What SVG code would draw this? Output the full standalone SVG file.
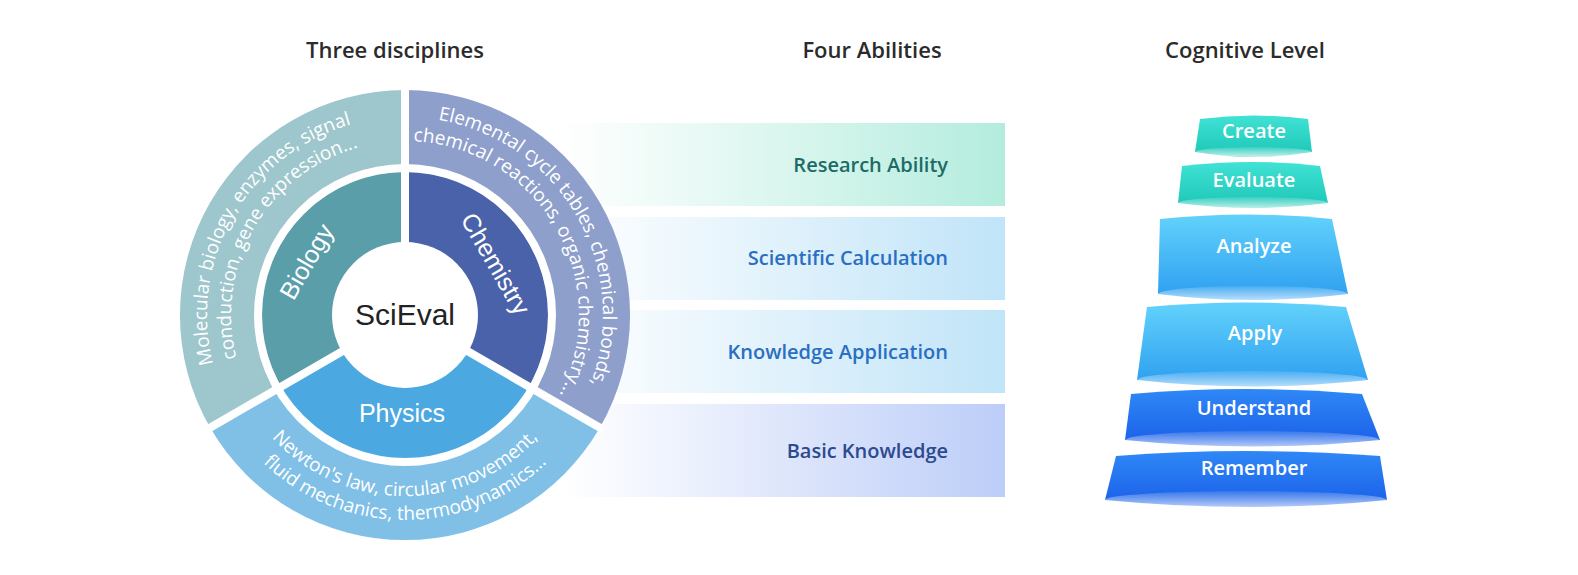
<svg xmlns="http://www.w3.org/2000/svg" width="1578" height="575" viewBox="0 0 1578 575">
<defs>
<style>
.hdr{font-family:"Open Sans","Noto Sans",sans-serif;font-weight:600;font-size:22px;fill:#2b2b2b;text-anchor:middle}
.ab{font-family:"Open Sans","Noto Sans",sans-serif;font-weight:600;font-size:20px;text-anchor:end}
.ot{font-family:"Open Sans","Noto Sans",sans-serif;font-size:19px;fill:#fff;text-anchor:middle}
.it{font-family:"Liberation Sans",Arial,sans-serif;font-size:25px;fill:#fff;text-anchor:middle}
.pt{font-family:"Open Sans","Noto Sans",sans-serif;font-weight:600;font-size:20px;fill:#fff;text-anchor:middle}
</style>
<linearGradient id="b1" x1="0" x2="1"><stop offset="0" stop-color="#b8eee0" stop-opacity="0"/><stop offset="1" stop-color="#b3ecdd"/></linearGradient>
<linearGradient id="b2" x1="0" x2="1"><stop offset="0" stop-color="#c2e4f8" stop-opacity="0"/><stop offset="1" stop-color="#c0e4f8"/></linearGradient>
<linearGradient id="b4" x1="0" x2="1"><stop offset="0" stop-color="#c0cff8" stop-opacity="0"/><stop offset="1" stop-color="#bccdf8"/></linearGradient>
<linearGradient id="gt" x1="0" y1="0" x2="0" y2="1"><stop offset="0" stop-color="#40e2d4"/><stop offset="1" stop-color="#1cc6b6"/></linearGradient>
<linearGradient id="gb" x1="0" y1="0" x2="0" y2="1"><stop offset="0" stop-color="#62d2fb"/><stop offset="1" stop-color="#2c9df0"/></linearGradient>
<linearGradient id="gd" x1="0" y1="0" x2="0" y2="1"><stop offset="0" stop-color="#2f88f6"/><stop offset="1" stop-color="#1a5ee8"/></linearGradient>
<linearGradient id="hl" x1="0" y1="0" x2="0" y2="1"><stop offset="0" stop-color="#fff" stop-opacity="0.1"/><stop offset="1" stop-color="#fff" stop-opacity="0.75"/></linearGradient>
<path id="bo1" d="M 233.5 414 A 198 198 0 0 1 405 117"/>
<path id="bo2" d="M 254.4 402 A 174 174 0 0 1 405 141"/>
<path id="co1" d="M 405 117 A 198 198 0 0 1 576.5 414"/>
<path id="co2" d="M 405 141 A 174 174 0 0 1 555.6 402"/>
<path id="po1" d="M 248.2 405.5 A 181 181 0 0 0 561.8 405.5"/>
<path id="po2" d="M 227.5 417.5 A 205 205 0 0 0 582.5 417.5"/>
</defs>
<rect width="1578" height="575" fill="#fff"/>
<text class="hdr" x="395" y="58">Three disciplines</text>
<text class="hdr" x="872" y="58">Four Abilities</text>
<text class="hdr" x="1245" y="58">Cognitive Level</text>

<g id="abilities">
<rect x="560" y="123" width="445" height="83" fill="url(#b1)"/>
<rect x="560" y="217" width="445" height="83" fill="url(#b2)"/>
<rect x="560" y="310" width="445" height="83" fill="url(#b2)"/>
<rect x="560" y="404" width="445" height="93" fill="url(#b4)"/>
<text class="ab" x="948" y="172" fill="#1d6b68">Research Ability</text>
<text class="ab" x="948" y="265" fill="#2a6fc2">Scientific Calculation</text>
<text class="ab" x="948" y="359" fill="#2a6fc2">Knowledge Application</text>
<text class="ab" x="948" y="458" fill="#2c4a8c">Basic Knowledge</text>
</g>

<g id="wheel">
<path d="M405 315 L210.1 427.5 A225 225 0 0 1 405 90 Z" fill="#9ec6cd"/>
<path d="M405 315 L405 90 A225 225 0 0 1 599.9 427.5 Z" fill="#8e9fcc"/>
<path d="M405 315 L599.9 427.5 A225 225 0 0 1 210.1 427.5 Z" fill="#80c0e7"/>
<path d="M405 315 L281.2 386.5 A143 143 0 0 1 405 172 Z" fill="#5a9ea9"/>
<path d="M405 315 L405 172 A143 143 0 0 1 528.8 386.5 Z" fill="#4a62a9"/>
<path d="M405 315 L528.8 386.5 A143 143 0 0 1 281.2 386.5 Z" fill="#4ca8e1"/>
<circle cx="405" cy="315" r="147" fill="none" stroke="#fff" stroke-width="8"/>
<g stroke="#fff" stroke-width="8">
<line x1="405" y1="315" x2="405" y2="86"/>
<line x1="405" y1="315" x2="603" y2="429.5"/>
<line x1="405" y1="315" x2="207" y2="429.5"/>
</g>
<circle cx="405" cy="315" r="73" fill="#fff"/>
<text x="405" y="325" font-family="'Liberation Sans',Arial,sans-serif" font-size="30" fill="#222" text-anchor="middle">SciEval</text>
<text class="it" transform="translate(307 262) rotate(-60)" dy="8">Biology</text>
<text class="it" transform="translate(495 264) rotate(60)" dy="8">Chemistry</text>
<text class="it" x="402" y="422">Physics</text>
<text class="ot"><textPath href="#bo1" startOffset="50%">Molecular biology, enzymes, signal</textPath></text>
<text class="ot"><textPath href="#bo2" startOffset="50%">conduction, gene expression...</textPath></text>
<text class="ot"><textPath href="#co1" startOffset="50%">Elemental cycle tables, chemical bonds,</textPath></text>
<text class="ot"><textPath href="#co2" startOffset="50%">chemical reactions, organic chemistry...</textPath></text>
<text class="ot"><textPath href="#po1" startOffset="50%">Newton's law, circular movement,</textPath></text>
<text class="ot"><textPath href="#po2" startOffset="50%">fluid mechanics, thermodynamics...</textPath></text>
</g>

<g id="pyramid">
<g id="create">
<path d="M1200 119 Q1254 112 1308 119 L1312 152 Q1254 162 1195 152 Z" fill="url(#gt)"/>
<ellipse cx="1253.5" cy="152" rx="58" ry="5" fill="url(#hl)"/>
<text class="pt" x="1254" y="138">Create</text></g>
<g id="evaluate">
<path d="M1182 166 Q1253 158 1320 166 L1328 203 Q1253 213 1178 203 Z" fill="url(#gt)"/>
<ellipse cx="1253" cy="203" rx="75" ry="6" fill="url(#hl)"/>
<text class="pt" x="1254" y="187">Evaluate</text></g>
<g id="analyze">
<path d="M1160 219 Q1248 210 1332 219 L1348 294 Q1253 306 1158 294 Z" fill="url(#gb)"/>
<ellipse cx="1253" cy="294" rx="95" ry="8" fill="url(#hl)"/>
<text class="pt" x="1254" y="253">Analyze</text></g>
<g id="apply">
<path d="M1147 307 Q1245 298 1346 307 L1368 380 Q1252 393 1137 380 Z" fill="url(#gb)"/>
<ellipse cx="1252.5" cy="380" rx="115" ry="9" fill="url(#hl)"/>
<text class="pt" x="1255" y="340">Apply</text></g>
<g id="understand">
<path d="M1131 394 Q1245 384 1362 394 L1380 440 Q1252 453 1125 440 Z" fill="url(#gd)"/>
<ellipse cx="1252.5" cy="440" rx="127" ry="9" fill="url(#hl)"/>
<text class="pt" x="1254" y="415">Understand</text></g>
<g id="remember">
<path d="M1116 456 Q1245 446 1380 456 L1387 500 Q1250 514 1105 500 Z" fill="url(#gd)"/>
<ellipse cx="1246" cy="500" rx="141" ry="9" fill="url(#hl)"/>
<text class="pt" x="1254" y="475">Remember</text></g>
</g>
</svg>
